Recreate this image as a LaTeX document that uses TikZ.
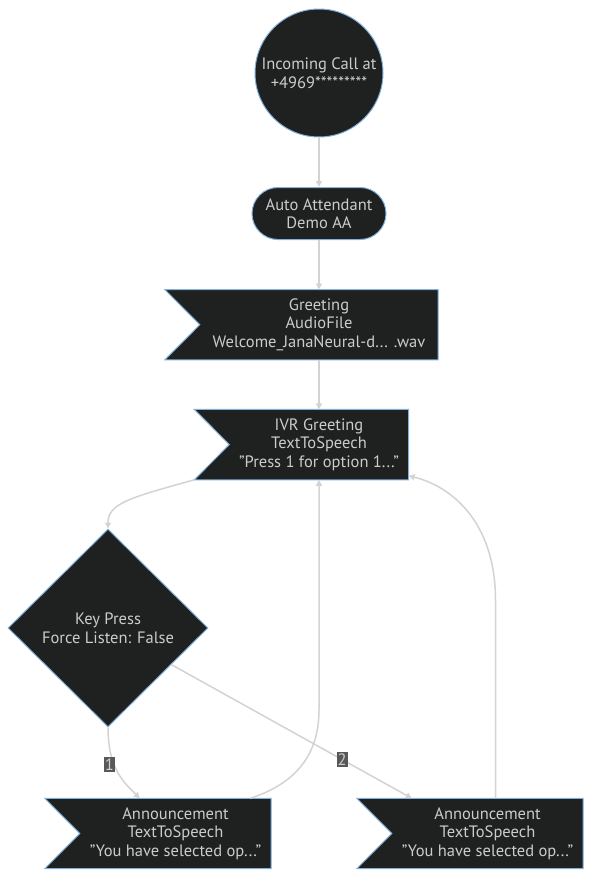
\documentclass[tikz,border=0pt]{standalone}
\usepackage{fontspec}
\setmainfont{PT Sans}
\usetikzlibrary{arrows.meta,positioning,shapes.geometric,calc,backgrounds}

\definecolor{nodefill}{HTML}{1F2020}
\definecolor{nodeline}{HTML}{81B1DB}
\definecolor{nodetext}{HTML}{CCCCCC}
\definecolor{edgeline}{HTML}{D3D3D3}
\definecolor{lblfill}{HTML}{585858}

\newcommand{\flagbox}[1]{%
  \filldraw[fill=nodefill,draw=nodeline,line width=1pt]
    ($(#1.north west)+(-35,0)$) -- (#1.north east) -- (#1.south east)
    -- ($(#1.south west)+(-35,0)$) -- (#1.west) -- cycle;}

\begin{document}
\begin{tikzpicture}[x=1pt,y=-1pt,>={Triangle[length=6pt,width=6pt]},node distance=49.5pt,
    font=\fontsize{16.5}{18.5}\selectfont]
  \tikzstyle{base}=[text=nodetext,align=center,inner sep=0pt]
  \tikzstyle{filled}=[base,fill=nodefill,draw=nodeline,line width=1pt]
  \tikzstyle{flag}=[base,minimum height=70pt]
  \tikzstyle{edge}=[draw=edgeline,line width=1.5pt,->]
  \tikzstyle{lbl}=[fill=lblfill,text=nodetext,inner xsep=1pt,inner ysep=1.5pt]
  \useasboundingbox (0,0) rectangle (599,889);
  \node[filled,circle,minimum size=128pt] (call) at (319,73) {Incoming Call at\\+4969*********};
  \node[filled,rounded corners=26pt,minimum width=134pt,minimum height=52pt,below=of call] (aa) {Auto Attendant\\Demo AA};
  \node[flag,minimum width=238pt,below=of aa] (greet) {Greeting\\AudioFile\\Welcome\_JanaNeural-d... .wav};
  \node[flag,minimum width=179pt,below=of greet] (ivr) {IVR Greeting\\TextToSpeech\\"Press 1 for option 1..."};
  \node[filled,diamond,minimum width=200pt,minimum height=198pt] (kp) at (108,628) {Key Press\\Force Listen: False};
  \node[flag,minimum width=191pt] (ann1) at (175.5,833.5) {Announcement\\TextToSpeech\\"You have selected op..."};
  \node[flag,minimum width=191pt] (ann2) at (487.5,833.5) {Announcement\\TextToSpeech\\"You have selected op..."};
  \begin{pgfonlayer}{background}
    \flagbox{greet} \flagbox{ivr} \flagbox{ann1} \flagbox{ann2}
  \end{pgfonlayer}
  \draw[edge] (call) -- (aa);
  \draw[edge] (aa) -- (greet);
  \draw[edge] (greet) -- (ivr);
  \draw[edge] ($(ivr.south west)+(-35,0)$) .. controls +(-65,18) and +(0,-25) .. (kp.north);
  \draw[edge] (kp.south) .. controls +(0,42) and +(-15,-15) .. ($(ann1.north west)+(60,0)$)
    node[lbl,pos=0.38,xshift=-5pt] {1};
  \draw[edge] (kp.-30) -- ($(ann2.north west)+(20,0)$) node[lbl,pos=0.71] {2};
  \draw[edge] ($(ann1.north east)+(-21,0)$) .. controls +(40,-13) and +(0,50) .. ($(ivr.south)+(0,230)$) -- (ivr.south);
  \draw[edge] ($(ann2.north)+(8,0)$) -- ++(0,-198) .. controls +(0,-80) and +(41,10) .. ($(ivr.south east)+(0,-4)$);
\end{tikzpicture}
\end{document}
